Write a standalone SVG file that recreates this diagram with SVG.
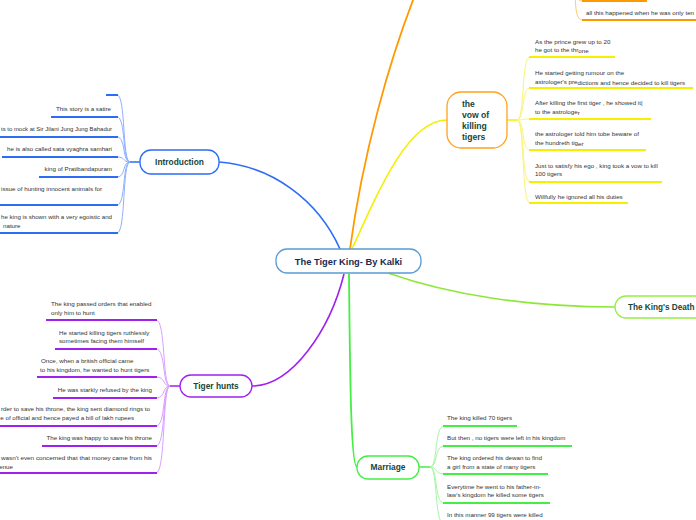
<svg xmlns="http://www.w3.org/2000/svg" width="696" height="520" viewBox="0 0 696 520">
<style>
.t{font-family:"Liberation Sans",Arial,sans-serif;font-size:6.2px;fill:#333}
.e{text-anchor:end}
.n{font-family:"Liberation Sans",Arial,sans-serif;font-weight:bold;font-size:8.4px;fill:#17463a}
.ub{stroke:#2d6cf5;stroke-width:2}
.up{stroke:#a020f0;stroke-width:2}
.uy{stroke:#f5f000;stroke-width:2}
.ug{stroke:#44ee44;stroke-width:2}
.uo{stroke:#ff9900;stroke-width:2}
.lb{stroke:#8fb0ff;stroke-width:1;fill:none}
.lp{stroke:#d9a0ff;stroke-width:1;fill:none}
.ly{stroke:#fbf37a;stroke-width:1;fill:none}
.lg{stroke:#a6f5a6;stroke-width:1;fill:none}
.lo{stroke:#ffc870;stroke-width:1;fill:none}
</style>
<rect width="696" height="520" fill="#fff"/>
<g id="connectors" fill="none">
<path d="M219,162 C272,166 318,200 340,249" stroke="#2d6cf5" stroke-width="1.6"/>
<path d="M350,249 C362,160 388,60 421,-20" stroke="#ff9900" stroke-width="1.8"/>
<path d="M352,249 C382,182 410,120 447,120" stroke="#f5f000" stroke-width="1.6"/>
<path d="M344,274 C330,330 292,386 252,386" stroke="#a020f0" stroke-width="1.6"/>
<path d="M349,274 C350,380 351,467 357,467" stroke="#44ee44" stroke-width="1.8"/>
<path d="M388,273 C450,295 530,307 615,307" stroke="#8ee83a" stroke-width="1.6"/>
<path d="M140,162 L130,162" stroke="#2d6cf5" stroke-width="1.5"/>
<path class="lb" d="M130,162 C122,162 126,95 117,95"/>
<path class="lb" d="M130,162 C122,162 126,117 117,117"/>
<path class="lb" d="M130,162 C122,162 126,137 117,137"/>
<path class="lb" d="M130,162 C122,162 126,157 117,157"/>
<path class="lb" d="M130,162 C122,162 126,177 117,177"/>
<path class="lb" d="M130,162 C122,162 126,205 117,205"/>
<path class="lb" d="M130,162 C122,162 126,233 117,233"/>
<path d="M180,386 L170,386" stroke="#a020f0" stroke-width="1.5"/>
<path class="lp" d="M170,386 C162,386 166,320 156,320"/>
<path class="lp" d="M170,386 C162,386 166,349 156,349"/>
<path class="lp" d="M170,386 C162,386 166,377 156,377"/>
<path class="lp" d="M170,386 C162,386 166,398 156,398"/>
<path class="lp" d="M170,386 C162,386 166,426 156,426"/>
<path class="lp" d="M170,386 C162,386 166,446 156,446"/>
<path class="lp" d="M170,386 C162,386 166,473 156,473"/>
<path d="M507,120 L517,120" stroke="#f5f000" stroke-width="1.5"/>
<path class="ly" d="M517,120 C525,120 521,57 530,57"/>
<path class="ly" d="M517,120 C525,120 521,88 530,88"/>
<path class="ly" d="M517,120 C525,120 521,119 530,119"/>
<path class="ly" d="M517,120 C525,120 521,150 530,150"/>
<path class="ly" d="M517,120 C525,120 521,182 530,182"/>
<path class="ly" d="M517,120 C525,120 521,203 530,203"/>
<path d="M419,467 L430,467" stroke="#44ee44" stroke-width="1.5"/>
<path class="lg" d="M430,467 C438,467 434,426 444,426"/>
<path class="lg" d="M430,467 C438,467 434,446 444,446"/>
<path class="lg" d="M430,467 C438,467 434,474 444,474"/>
<path class="lg" d="M430,467 C438,467 434,503 444,503"/>
<path class="lg" d="M430,467 C438,467 434,524 444,524"/>
<path class="lo" d="M575,-20 C575,-5 576,1 583,1"/>
<path class="lo" d="M575,-20 C575,10 576,20 583,20"/>
</g>
<g id="center">
<rect x="276" y="249" width="145" height="24" rx="11" fill="#fff" stroke="#5a9bd5" stroke-width="1.3"/>
<text x="348.5" y="264.5" text-anchor="middle" style="font-family:'Liberation Sans',Arial,sans-serif;font-weight:bold;font-size:9.3px;fill:#1a2a50">The Tiger King- By Kalki</text>
</g>
<g id="introduction">
<rect x="140" y="150" width="79" height="24" rx="11" fill="#fff" stroke="#2d6cf5" stroke-width="1.3"/>
<text class="n" x="179.5" y="165" text-anchor="middle">Introduction</text>
</g>
<g id="intro-items">
<path class="ub" d="M106,95 H118"/>
<path class="ub" d="M51,117 H118"/>
<text class="t e" x="111" y="111">This story is a satire</text>
<path class="ub" d="M0,137 H118"/>
<text class="t" x="1" y="130.5" textLength="111" lengthAdjust="spacingAndGlyphs">ts to mock at Sir Jilani Jung Jung Bahadur</text>
<path class="ub" d="M2,157 H118"/>
<text class="t e" x="112" y="150.5">he is also called sata vyaghra samhari</text>
<path class="ub" d="M39,177 H118"/>
<text class="t e" x="112" y="170.5">king of Pratibandapuram</text>
<path class="ub" d="M0,205 H118"/>
<text class="t" x="1" y="191" textLength="101" lengthAdjust="spacingAndGlyphs">issue of hunting innocent animals for</text>
<path class="ub" d="M0,233 H118"/>
<text class="t" x="1" y="219" textLength="111" lengthAdjust="spacingAndGlyphs">he king is shown with a very egoistic and</text>
<text class="t" x="3" y="228">nature</text>
</g>
<g id="tiger-hunts">
<rect x="180" y="375" width="72" height="22" rx="11" fill="#fff" stroke="#a020f0" stroke-width="1.3"/>
<text class="n" x="216" y="389" text-anchor="middle">Tiger hunts</text>
</g>
<g id="tiger-hunts-items">
<path class="up" d="M46,320 H157"/>
<text class="t" x="51" y="306">The king passed orders that enabled</text>
<text class="t" x="51" y="315">only him to hunt</text>
<path class="up" d="M55,349 H157"/>
<text class="t" x="59" y="335">He started killing tigers ruthlessly</text>
<text class="t" x="59" y="343">sometimes facing them himself</text>
<path class="up" d="M37,377 H157"/>
<text class="t" x="41" y="363">Once, when a british official came</text>
<text class="t" x="40" y="372">to his kingdom, he wanted to hunt tigers</text>
<path class="up" d="M53,398 H157"/>
<text class="t e" x="152" y="391.5">He was starkly refused by the king</text>
<path class="up" d="M0,426 H157"/>
<text class="t" x="1" y="411" textLength="149" lengthAdjust="spacingAndGlyphs">rder to save his throne, the king sent diamond rings to</text>
<text class="t e" x="134" y="420">e of official and hence payed a bill of  lakh rupees</text>
<path class="up" d="M42,446 H157"/>
<text class="t e" x="152" y="440">The king was happy to save his throne</text>
<path class="up" d="M0,473 H157"/>
<text class="t" x="1" y="460" textLength="151" lengthAdjust="spacingAndGlyphs">wasn't even concerned that that money came from his</text>
<text class="t e" x="13" y="469">enue</text>
</g>
<g id="vow">
<rect x="447" y="92" width="60" height="56" rx="14" fill="#fff" stroke="#ffa31a" stroke-width="1.3"/>
<text class="n" x="462" y="107" style="font-size:8.6px">the</text>
<text class="n" x="462" y="118" style="font-size:8.6px">vow of</text>
<text class="n" x="462" y="129" style="font-size:8.6px">killing</text>
<text class="n" x="462" y="140" style="font-size:8.6px">tigers</text>
</g>
<g id="vow-items">
<path class="uy" d="M529,57 H615"/>
<text class="t" x="535" y="44">As the prince grew up to 20</text>
<text class="t" x="535" y="52">he got to the thr<tspan dy="1.2">one</tspan></text>
<path class="uy" d="M529,88 H693"/>
<text class="t" x="535" y="75">He started getting rumour on the</text>
<text class="t" x="535" y="84">astrologer's pre<tspan dy="1.2">dictions and hence decided to kill tigers</tspan></text>
<path class="uy" d="M529,119 H651"/>
<text class="t" x="535" y="105">After killing the first tiger , he showed it|</text>
<text class="t" x="535" y="114">to the astrologe<tspan dy="1.2">r</tspan></text>
<path class="uy" d="M529,150 H646"/>
<text class="t" x="535" y="136">the astrologer told him tobe beware of</text>
<text class="t" x="535" y="145">the hundreth tig<tspan dy="1.2">er</tspan></text>
<path class="uy" d="M529,182 H662"/>
<text class="t" x="535" y="168">Just to satisfy his ego , king took a vow to kill</text>
<text class="t" x="535" y="176">100 tigers</text>
<path class="uy" d="M529,203 H628"/>
<text class="t" x="535" y="199">Willfully he ignored all his duties</text>
</g>
<g id="top-right-items">
<path class="uo" d="M582,1 H647"/>
<path class="uo" d="M582,20 H696"/>
<text class="t" x="586" y="15">all this happened when he was only ten</text>
</g>
<g id="kings-death">
<rect x="615" y="296" width="100" height="22" rx="11" fill="#fff" stroke="#99ee44" stroke-width="1.3"/>
<text class="n" x="628" y="310" style="font-size:8.2px">The King's Death</text>
</g>
<g id="marriage">
<rect x="357" y="456" width="62" height="23" rx="11" fill="#fff" stroke="#44ee44" stroke-width="1.3"/>
<text class="n" x="388" y="470" text-anchor="middle">Marriage</text>
</g>
<g id="marriage-items">
<path class="ug" d="M443,426 H517"/>
<text class="t" x="447" y="420">The king killed 70 tigers</text>
<path class="ug" d="M443,446 H572"/>
<text class="t" x="447" y="440">But then , no tigers were left in his kingdom</text>
<path class="ug" d="M443,474 H548"/>
<text class="t" x="447" y="460">The king ordered his dewan to find</text>
<text class="t" x="447" y="469">a girl from a state of many tigers</text>
<path class="ug" d="M443,503 H550"/>
<text class="t" x="447" y="489">Everytime he went to his father-in-</text>
<text class="t" x="447" y="497">law's kingdom he killed some tigers</text>
<path class="ug" d="M443,524 H548"/>
<text class="t" x="447" y="517">In this manner 99 tigers were killed</text>
</g>
</svg>
